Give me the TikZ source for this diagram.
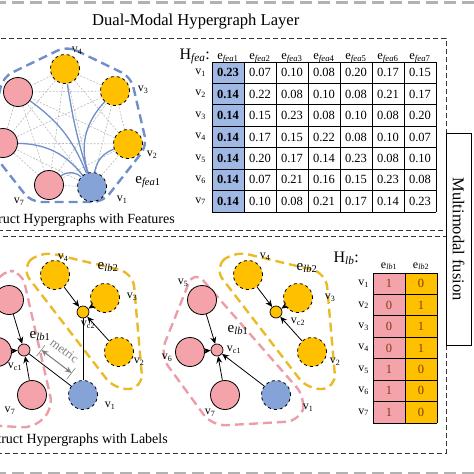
\documentclass[tikz,border=0pt]{standalone}
\usepackage{fontspec}
\setmainfont{Liberation Serif}
\usetikzlibrary{arrows.meta, backgrounds}

\definecolor{pinkfill}{RGB}{244,163,170}
\definecolor{yelfill}{RGB}{255,192,0}
\definecolor{bluefill}{RGB}{134,163,216}
\definecolor{bluecell}{RGB}{160,184,228}
\definecolor{blueedge}{RGB}{112,142,202}
\definecolor{pinkedge}{RGB}{236,158,168}
\definecolor{yeledge}{RGB}{234,186,40}
\definecolor{valbrown}{RGB}{125,60,20}

\newcommand{\vsub}[1]{v\textsubscript{#1}}
\newcommand{\esub}[2]{e\textsubscript{\textit{#1}#2}}

\tikzset{
  vpink/.style={circle, draw=black, fill=pinkfill, line width=0.8pt, minimum size=29pt, inner sep=0pt},
  vyel/.style={vpink, fill=yelfill, dashed},
  vblue/.style={vpink, fill=bluefill, dashed},
  vctr/.style={circle, draw=black, line width=0.7pt, minimum size=12pt, inner sep=0pt},
  lbl/.style={inner sep=0pt, font=\fontsize{12}{12}\selectfont},
  elbl/.style={inner sep=0pt, font=\fontsize{15}{15}\selectfont},
  cellnum/.style={inner sep=0pt, font=\fontsize{12.5}{12.5}\selectfont},
  toctr/.style={-{Stealth[length=7pt,width=6pt]}, line width=0.8pt},
  hedge/.style={line width=2.4pt, dash pattern=on 9pt off 5pt, rounded corners=10pt},
  boxline/.style={line width=0.9pt, dash pattern=on 5pt off 3pt, black!80},
  sepline/.style={line width=3pt, dash pattern=on 12pt off 6pt, black!30},
}

\begin{document}
\begin{tikzpicture}[x=1pt, y=-1pt]
    \useasboundingbox (0,0) rectangle (474,474);
    \clip (0,0) rectangle (474,474);

    % Separatori e riquadri
    \draw[sepline] (-6,2) -- (480,2);
    \draw[sepline] (-6,473) -- (480,473);
    \draw[boxline] (-10,38) rectangle (446,230);
    \draw[boxline] (-10,236) rectangle (446,453);
    \node[anchor=base west, inner sep=0pt, font=\fontsize{16.6}{16.6}\selectfont] (title) at (92,25) {Dual-Modal Hypergraph Layer};

    % Fusione multimodale
    \draw[line width=0.9pt, fill=white] (446,133) rectangle (471,345);
    \node[rotate=-90, font=\fontsize{16.5}{16.5}\selectfont] (fusion) at (458.5,239) {Multimodal fusion};

    % Ipergrafo dalle feature
    \foreach \n/\x/\y/\s in {1/92/187/vblue, 2/128/144/vyel, 3/115/91/vyel, 4/65/69/vyel,
                             5/18/92/vpink, 6/3/143/vpink, 7/49/185/vpink}
        \node[\s] (f\n) at (\x,\y) {};

    \begin{scope}[on background layer]
        \foreach \a in {1,...,6} {
            \pgfmathtruncatemacro{\nxt}{\a+1}
            \foreach \b in {\nxt,...,7}
                \draw[gray!55, dash pattern=on 2pt off 1.5pt, line width=0.6pt] (f\a) -- (f\b);
        }
        \foreach \n/\ang in {2/30, 3/30, 4/4, 5/-16, 6/-25, 7/-40}
            \draw[blueedge, line width=1.3pt] (f1) to[bend left=\ang] (f\n);
        \draw[hedge, blueedge] (67,46) -- (131,77) -- (147,146) -- (103,202) -- (31,202) -- (-13,146) -- (3,77) -- cycle;
    \end{scope}

    \node[lbl] (lf4) at (77,51) {\vsub{4}};
    \node[lbl] (lf3) at (143,90) {\vsub{3}};
    \node[lbl] (lf2) at (152,155) {\vsub{2}};
    \node[lbl] (lf1) at (122,200) {\vsub{1}};
    \node[lbl] (lf7) at (19,202) {\vsub{7}};
    \node[elbl] (lfe) at (148,182) {\esub{fea}{1}};
    \node[anchor=base east, inner sep=0pt, font=\fontsize{14}{14}\selectfont] (capf) at (175,223) {Construct Hypergraphs with Features};

    % Matrice H_fea
    \node[anchor=base east, inner sep=0pt, font=\fontsize{16}{16}\selectfont] (hfea) at (210,59) {H\textsubscript{\textit{fea}}:};
    \fill[bluecell] (212,62) rectangle (244,212);
    \foreach \cc in {0,...,7}
        \draw[line width=0.9pt] (212+32*\cc,62) -- (212+32*\cc,212);
    \foreach \rr in {0,...,7}
        \draw[line width=0.9pt] (212,62+150*\rr/7) -- (436,62+150*\rr/7);
    \foreach \cc in {1,...,7}
        \node[anchor=base, inner sep=0pt, font=\fontsize{12.5}{12.5}\selectfont] (ef\cc) at (196+32*\cc,59) {\esub{fea}{\cc}};
    \foreach \vals [count=\rr] in {{0.23,0.07,0.10,0.08,0.20,0.17,0.15},
                                   {0.14,0.22,0.08,0.10,0.08,0.21,0.17},
                                   {0.14,0.15,0.23,0.08,0.10,0.08,0.20},
                                   {0.14,0.17,0.15,0.22,0.08,0.10,0.07},
                                   {0.14,0.20,0.17,0.14,0.23,0.08,0.10},
                                   {0.14,0.07,0.21,0.16,0.15,0.23,0.08},
                                   {0.14,0.10,0.08,0.21,0.17,0.14,0.23}} {
        \node[lbl, anchor=east] (rf\rr) at (206,62+150*\rr/7-75/7) {\vsub{\rr}};
        \foreach \val [count=\cc] in \vals
            \node[cellnum] (cf\rr-\cc) at (196+32*\cc,62+150*\rr/7-75/7) {\ifnum\cc=1 \textbf{\val}\else\val\fi};
    }

    % Ipergrafi dalle etichette
    \foreach \g/\dx in {a/-193, b/0} {
        \begin{scope}[xshift=\dx pt]
            \node[vpink] (\g5) at (202,300) {};
            \node[vpink] (\g6) at (190,352) {};
            \node[vpink] (\g7) at (225,395) {};
            \node[vblue] (\g1) at (276,395) {};
            \node[vyel] (\g4) at (248,275) {};
            \node[vyel] (\g3) at (298,298) {};
            \node[vyel] (\g2) at (312,352) {};
            \node[vctr, fill=pinkfill] (\g c1) at (217,350) {};
            \node[vctr, fill=yelfill] (\g c2) at (276,312) {};
            \foreach \s in {5,6,7}
                \draw[toctr] (\g\s) -- (\g c1);
            \foreach \s in {2,3,4}
                \draw[toctr] (\g\s) -- (\g c2);
            \begin{scope}[on background layer]
                \draw[hedge, yeledge, rounded corners=14pt] (214,268) -- (234,251) -- (326,273) -- (336,388) -- (308,390) -- cycle;
            \end{scope}
        \end{scope}
    }

    % Primo ipergrafo: v1 fuori, con metrica
    \draw[line width=0.8pt] (ac1) -- (a1);
    \draw[line width=0.8pt] (ac2) -- (a1);
    \begin{scope}[on background layer]
        \draw[hedge, pinkedge, rounded corners=12pt] (-35,352) -- (2,270) -- (22,272) -- (53,408) -- (34,428) -- (-30,424) -- cycle;
    \end{scope}
    \coordinate (ma) at (41.4,350);
    \coordinate (mb) at (71.6,373);
    \draw[gray, line width=0.6pt] (36.5,356.3) -- (45,345.2);
    \draw[gray, line width=0.6pt] (66.7,379.3) -- (75.2,368.2);
    \draw[gray, line width=1.1pt, {Stealth[length=7pt,width=6pt]}-{Stealth[length=7pt,width=6pt]}] (ma) -- (mb);
    \node[gray, rotate=-37, font=\fontsize{12.5}{12.5}\selectfont, inner sep=0pt] (metric) at (64.5,350.5) {metric};

    \node[lbl] (la4) at (63,258) {\vsub{4}};
    \node[lbl] (la3) at (132,297) {\vsub{3}};
    \node[lbl] (la2) at (139,362) {\vsub{2}};
    \node[lbl] (la1) at (110,406) {\vsub{1}};
    \node[lbl] (la7) at (10,411) {\vsub{7}};
    \node[lbl] (lac1) at (15,367) {\vsub{c1}};
    \node[lbl] (lac2) at (88,325) {\vsub{c2}};
    \node[elbl] (lae1) at (40,336) {\esub{lb}{1}};
    \node[elbl] (lae2) at (108,267) {\esub{lb}{2}};

    % Secondo ipergrafo: v1 dentro e_lb1
    \draw[toctr] (b1) -- (bc1);
    \begin{scope}[on background layer]
        \draw[hedge, pinkedge, rounded corners=14pt] (194,270) -- (306,398) -- (300,421) -- (212,426) -- (160,355) -- cycle;
    \end{scope}

    \node[lbl] (lb5) at (183,283) {\vsub{5}};
    \node[lbl] (lb6) at (167,358) {\vsub{6}};
    \node[lbl] (lb7) at (210,413) {\vsub{7}};
    \node[lbl] (lb1) at (308,408) {\vsub{1}};
    \node[lbl] (lb4) at (265,257) {\vsub{4}};
    \node[lbl] (lb3) at (330,298) {\vsub{3}};
    \node[lbl] (lb2) at (335,362) {\vsub{2}};
    \node[lbl] (lbc1) at (234,350) {\vsub{c1}};
    \node[lbl] (lbc2) at (298,322) {\vsub{c2}};
    \node[elbl] (lbe1) at (238,330) {\esub{lb}{1}};
    \node[elbl] (lbe2) at (307,268) {\esub{lb}{2}};
    \node[anchor=base east, inner sep=0pt, font=\fontsize{14}{14}\selectfont] (capl) at (168,443) {Construct Hypergraphs with Labels};

    % Matrice H_lb
    \node[anchor=base east, inner sep=0pt, font=\fontsize{16}{16}\selectfont] (hlb) at (359,262) {H\textsubscript{\textit{lb}}:};
    \fill[pinkfill] (373,273) rectangle (405,423);
    \fill[yelfill] (405,273) rectangle (437,423);
    \foreach \cc in {0,1,2}
        \draw[line width=0.9pt] (373+32*\cc,273) -- (373+32*\cc,423);
    \foreach \rr in {0,...,7}
        \draw[line width=0.9pt] (373,273+150*\rr/7) -- (437,273+150*\rr/7);
    \foreach \cc in {1,2}
        \node[anchor=base, inner sep=0pt, font=\fontsize{12}{12}\selectfont] (el\cc) at (357+32*\cc,268) {\esub{lb}{\cc}};
    \foreach \pa/\pb [count=\rr] in {1/0, 0/1, 0/1, 0/1, 1/0, 1/0, 1/0} {
        \node[lbl, anchor=east] (rl\rr) at (369,273+150*\rr/7-75/7) {\vsub{\rr}};
        \node[cellnum, valbrown] (cl\rr-1) at (389,273+150*\rr/7-75/7) {\pa};
        \node[cellnum, valbrown] (cl\rr-2) at (421,273+150*\rr/7-75/7) {\pb};
    }
\end{tikzpicture}
\end{document}
